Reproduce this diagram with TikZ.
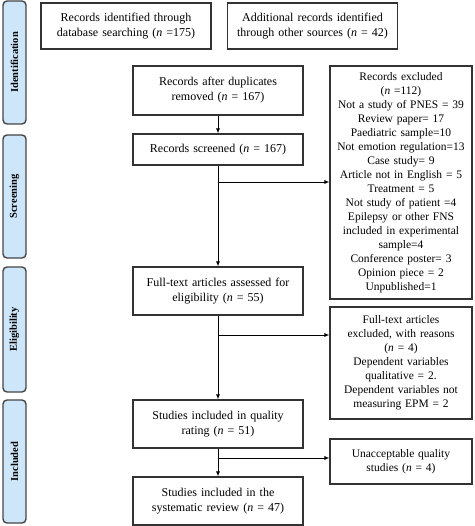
\documentclass[tikz,border=0pt]{standalone}
\usepackage{fontspec}
\setmainfont{Liberation Serif}
\usetikzlibrary{arrows.meta}
\definecolor{barblue}{RGB}{206,230,250}
\definecolor{bargray}{RGB}{70,70,70}
\begin{document}
\begin{tikzpicture}[x=1pt,y=-1pt,
		box/.style={draw=black!80,line width=1.1pt,align=center,inner sep=2pt},
		mid/.style={box,minimum width=170pt,text width=166pt,font=\fontsize{12}{15}\selectfont},
		side/.style={box,minimum width=140pt,text width=138pt,font=\fontsize{11.5}{14}\selectfont},
		stage/.style={draw=bargray,fill=barblue,line width=1.4pt,rounded corners=4pt},
		stagetext/.style={rotate=90,font=\fontsize{10.5}{11}\selectfont\bfseries},
		arr/.style={line width=0.9pt,-{Latex[length=5pt,width=4pt]}}]
		\useasboundingbox (0,0) rectangle (474,526);
		% stage bars
		\draw[stage] (3,1) rectangle (26,124);
		\node[stagetext] (sid) at (14.5,62.5) {Identification};
		\draw[stage] (3,135) rectangle (26,258);
		\node[stagetext] (sscr) at (14.5,196.5) {Screening};
		\draw[stage] (3,267) rectangle (26,392);
		\node[stagetext] (selig) at (14.5,329.5) {Eligibility};
		\draw[stage] (3,400) rectangle (26,523);
		\node[stagetext] (sincl) at (14.5,461.5) {Included};
		% boxes
		\node[mid,minimum height=46pt] (db) at (126,26)
			{Records identified through\\database searching (\textit{n} =175)};
		\node[mid,minimum width=169pt,minimum height=46pt] (oth) at (312.5,26)
			{Additional records identified\\through other sources (\textit{n} = 42)};
		\node[mid,minimum height=49pt] (dup) at (218,90.5)
			{Records after duplicates\\removed (\textit{n} = 167)};
		\node[mid,minimum height=31pt] (scr) at (218,149.5)
			{Records screened (\textit{n} = 167)};
		\node[side,minimum height=233pt] (exc) at (401,182.5)
			{Records excluded\\(\textit{n} =112)\\Not a study of PNES = 39\\Review paper= 17\\
			Paediatric sample=10\\Not emotion regulation=13\\Case study= 9\\
			Article not in English = 5\\Treatment = 5\\Not study of patient =4\\
			Epilepsy or other FNS\\included in experimental\\sample=4\\
			Conference poster= 3\\Opinion piece = 2\\Unpublished=1};
		\node[mid,minimum height=48pt] (full) at (218,291)
			{Full-text articles assessed for\\eligibility (\textit{n} = 55)};
		\node[side,minimum height=112pt] (ftx) at (401,363)
			{Full-text articles\\excluded, with reasons\\(\textit{n} = 4)\\Dependent variables\\
			qualitative = 2.\\Dependent variables not\\measuring EPM = 2};
		\node[mid,minimum height=48pt] (qual) at (218,424)
			{Studies included in quality\\rating (\textit{n} = 51)};
		\node[side,minimum height=45pt] (unac) at (401,461.5)
			{Unacceptable quality\\studies (\textit{n} = 4)};
		\node[mid,minimum height=48pt] (inc) at (218,501)
			{Studies included in the\\systematic review (\textit{n} = 47)};
		% connectors
		\coordinate (b1) at (218,182);
		\coordinate (b2) at (218,335);
		\coordinate (b3) at (218,458);
		\draw[arr] (dup) -- (scr);
		\draw[arr] (scr) -- (full);
		\draw[arr] (full) -- (qual);
		\draw[arr] (qual) -- (inc);
		\draw[arr] (b1) -- (b1 -| exc.west);
		\draw[arr] (b2) -- (b2 -| ftx.west);
		\draw[arr] (b3) -- (b3 -| unac.west);
	\end{tikzpicture}
\end{document}
